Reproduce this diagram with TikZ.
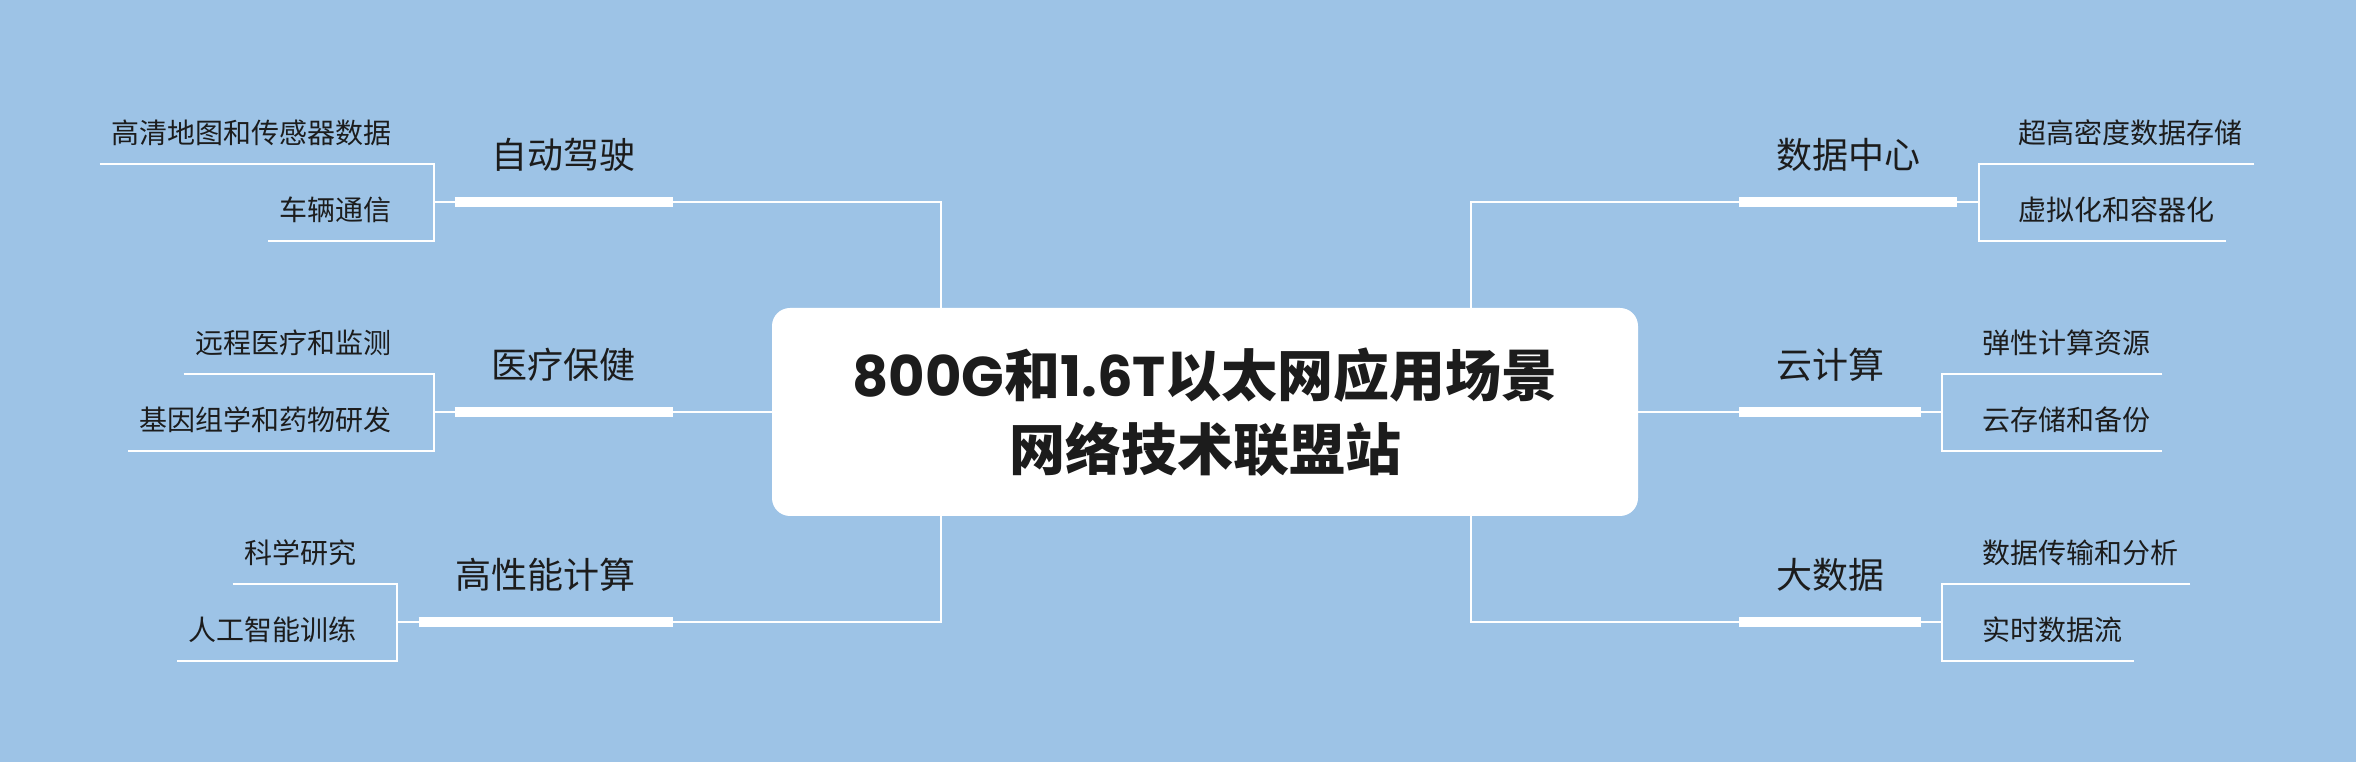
\documentclass[tikz,border=0pt]{standalone}
\usepackage{fontspec}
\setmainfont{Noto Sans CJK SC}
\newfontfamily\numfont{Poppins}
\usepackage{tikz}
\usetikzlibrary{positioning}
\definecolor{bgblue}{HTML}{9DC3E6}
\definecolor{inkdark}{HTML}{1C1C1C}
\tikzset{leaf/.style={inner sep=0pt, text=inkdark, font=\fontsize{28}{32}\selectfont},
         leafL/.style={leaf, anchor=east},
         leafR/.style={leaf, anchor=west},
         topic/.style={inner xsep=37pt, inner ysep=0pt, text=inkdark, font=\fontsize{36}{40}\selectfont},
         branch/.style={draw=white, line width=2.5pt},
         bar/.style={draw=white, line width=10pt},
         hub/.style={fill=white, rounded corners=18pt, minimum width=866pt, minimum height=208pt,
                     align=center, text=inkdark, font=\fontsize{56}{74}\selectfont\bfseries}}

\begin{document}
\begin{tikzpicture}[x=1pt, y=1pt]
    \fill[bgblue] (0,0) rectangle (2356,762);
    \node[hub] (hub) at (1205,350) {{\numfont 800G}和{\numfont 1.6T}以太网应用场景\\网络技术联盟站};
    \coordinate (jl) at (941,350);
    \coordinate (jr) at (1471,350);
    % left topics
    \node[topic, anchor=east] (auto) at (673,607) {自动驾驶};
    \node[topic, anchor=east] (med) at (673,397) {医疗保健};
    \node[topic, anchor=east] (hpc) at (673,187) {高性能计算};
    \coordinate (autob) at (434,560);
    \coordinate (medb) at (434,350);
    \coordinate (hpcb) at (397,140);
    \node[leafL] (hdmap) at (392,629) {高清地图和传感器数据};
    \node[leafL] (v2x) at (392,552) {车辆通信};
    \node[leafL] (remote) at (392,419) {远程医疗和监测};
    \node[leafL] (genome) at (392,342) {基因组学和药物研发};
    \node[leafL] (science) at (357,209) {科学研究};
    \node[leafL] (aitrain) at (357,132) {人工智能训练};
    % right topics
    \node[topic, anchor=west] (dc) at (1739,607) {数据中心};
    \node[topic, anchor=west] (cloud) at (1739,397) {云计算};
    \node[topic, anchor=west] (bigdata) at (1739,187) {大数据};
    \coordinate (dcb) at (1979,560);
    \coordinate (cloudb) at (1942,350);
    \coordinate (bigdatab) at (1942,140);
    \node[leafR] (storage) at (2018,629) {超高密度数据存储};
    \node[leafR] (virt) at (2018,552) {虚拟化和容器化};
    \node[leafR] (elastic) at (1982,419) {弹性计算资源};
    \node[leafR] (backup) at (1982,342) {云存储和备份};
    \node[leafR] (transfer) at (1982,209) {数据传输和分析};
    \node[leafR] (stream) at (1982,132) {实时数据流};
  % hub connectors
  \draw[branch] ([yshift=-47pt]auto.east) -| (jl |- hub.north);
  \draw[branch] ([yshift=-47pt]med.east) -- (hub.west);
  \draw[branch] ([yshift=-47pt]hpc.east) -| (jl |- hub.south);
  \draw[branch] ([yshift=-47pt]dc.west) -| (jr |- hub.north);
  \draw[branch] ([yshift=-47pt]cloud.west) -- (hub.east);
  \draw[branch] ([yshift=-47pt]bigdata.west) -| (jr |- hub.south);
  % topic to bracket
  \draw[branch] ([yshift=-47pt]auto.west) -- (autob);
  \draw[branch] ([yshift=-47pt]med.west) -- (medb);
  \draw[branch] ([yshift=-47pt]hpc.west) -- (hpcb);
  \draw[branch] ([yshift=-47pt]dc.east) -- (dcb);
  \draw[branch] ([yshift=-47pt]cloud.east) -- (cloudb);
  \draw[branch] ([yshift=-47pt]bigdata.east) -- (bigdatab);
  % brackets and leaf underlines
  \draw[branch] ([shift={(-12pt,-31pt)}]hdmap.west) -| (autob) |- ([shift={(-12pt,-31pt)}]v2x.west);
  \draw[branch] ([shift={(-12pt,-31pt)}]remote.west) -| (medb) |- ([shift={(-12pt,-31pt)}]genome.west);
  \draw[branch] ([shift={(-12pt,-31pt)}]science.west) -| (hpcb) |- ([shift={(-12pt,-31pt)}]aitrain.west);
  \draw[branch] ([shift={(12pt,-31pt)}]storage.east) -| (dcb) |- ([shift={(12pt,-31pt)}]virt.east);
  \draw[branch] ([shift={(12pt,-31pt)}]elastic.east) -| (cloudb) |- ([shift={(12pt,-31pt)}]backup.east);
  \draw[branch] ([shift={(12pt,-31pt)}]transfer.east) -| (bigdatab) |- ([shift={(12pt,-31pt)}]stream.east);
  % topic bars
  \draw[bar] ([yshift=-47pt]auto.west) -- ([yshift=-47pt]auto.east);
  \draw[bar] ([yshift=-47pt]med.west) -- ([yshift=-47pt]med.east);
  \draw[bar] ([yshift=-47pt]hpc.west) -- ([yshift=-47pt]hpc.east);
  \draw[bar] ([yshift=-47pt]dc.west) -- ([yshift=-47pt]dc.east);
  \draw[bar] ([yshift=-47pt]cloud.west) -- ([yshift=-47pt]cloud.east);
  \draw[bar] ([yshift=-47pt]bigdata.west) -- ([yshift=-47pt]bigdata.east);
\end{tikzpicture}
\end{document}
